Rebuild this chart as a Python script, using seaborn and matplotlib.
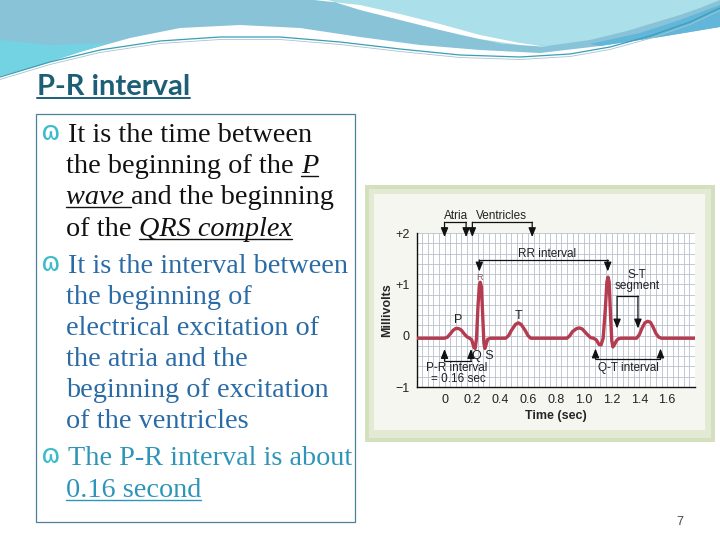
import matplotlib
matplotlib.use("Agg")
import matplotlib.pyplot as plt
import seaborn as sns
import pandas as pd
import numpy as np
from matplotlib.patches import Rectangle, Polygon

# ECG trace (time in s, potential in mV)
ecg_time = [-0.20, 0.00, 0.02, 0.04, 0.06, 0.08, 0.10, 0.12, 0.14, 0.16, 0.18,
            0.195, 0.21, 0.22, 0.23, 0.24, 0.25, 0.257, 0.265, 0.275, 0.283,
            0.29, 0.298, 0.31, 0.33, 0.44, 0.46, 0.48, 0.51, 0.53, 0.55, 0.58,
            0.60, 0.62, 0.88, 0.90, 0.92, 0.95, 0.97, 0.99, 1.02, 1.05, 1.07,
            1.09, 1.11, 1.125, 1.14, 1.155, 1.167, 1.175, 1.183, 1.193, 1.202,
            1.21, 1.22, 1.235, 1.25, 1.27, 1.38, 1.40, 1.42, 1.44, 1.46, 1.48,
            1.50, 1.52, 1.54, 1.56, 1.80]
ecg_mv = [-0.05, -0.05, -0.03, 0.03, 0.10, 0.14, 0.14, 0.11, 0.04, -0.02, -0.05,
          -0.08, -0.22, -0.25, -0.05, 0.55, 0.98, 1.04, 0.95, 0.35, -0.15,
          -0.25, -0.18, -0.07, -0.05, -0.05, 0.00, 0.10, 0.22, 0.25, 0.22, 0.10,
          0.00, -0.05, -0.05, 0.00, 0.08, 0.14, 0.15, 0.13, 0.04, -0.04, -0.05,
          -0.08, -0.17, -0.18, -0.05, 0.50, 1.05, 1.14, 1.05, 0.40, -0.10,
          -0.22, -0.18, -0.10, -0.06, -0.05, -0.05, 0.02, 0.15, 0.25, 0.28, 0.26,
          0.16, 0.04, -0.03, -0.05, -0.05]

x_ticks = [0, 0.2, 0.4, 0.6, 0.8, 1.0, 1.2, 1.4, 1.6]
x_tick_labels = ["0", "0.2", "0.4", "0.6", "0.8", "1.0", "1.2", "1.4", "1.6"]
y_ticks = [-1, 0, 1, 2]
y_tick_labels = ["\u22121", "0", "+1", "+2"]

# wave letters
wave_labels = ["P", "R", "T", "Q S"]
wave_t = [0.096, 0.252, 0.533, 0.273]
wave_mv = [0.30, 1.14, 0.38, -0.39]

# interval brackets: start, end, bar level, arrow tip level
bracket_t0 = [0.0, 0.2, 0.25, 0.0, 1.085, 1.24]
bracket_t1 = [0.155, 0.63, 1.173, 0.19, 1.552, 1.39]
bracket_bar = [2.21, 2.21, 1.475, -0.50, -0.46, 0.77]
bracket_tip = [1.92, 1.92, 1.25, -0.26, -0.25, 0.14]

# bracket captions
caption_text = ["Atria", "Ventricles", "RR interval", "P-R interval",
                "= 0.16 sec", "Q-T interval", "S-T", "segment"]
caption_t = [0.08, 0.41, 0.74, 0.09, 0.10, 1.32, 1.385, 1.385]
caption_mv = [2.34, 2.34, 1.60, -0.63, -0.85, -0.63, 1.18, 0.97]

sns.set_style("white")
plt.rcParams["font.family"] = ["Liberation Sans", "DejaVu Sans"]

fig = plt.figure(figsize=(7.2, 5.4), dpi=100)
fig.patch.set_facecolor("white")

# slide background, drawn in pixel units
bg = fig.add_axes([0, 0, 1, 1])
bg.set_xlim(0, 720)
bg.set_ylim(540, 0)
bg.axis("off")

dark = [(0, 0), (720, 0), (720, 27), (660, 37), (600, 46), (540, 53), (480, 50),
        (420, 45), (360, 37), (300, 28), (240, 25), (180, 28), (130, 38),
        (80, 52), (40, 65), (0, 76)]
bg.add_patch(Polygon(dark, closed=True, fc="#88c3d7", ec="none"))
bg.add_patch(Polygon([(0, 40), (0, 76), (40, 65), (80, 52), (110, 43), (50, 45)],
                     closed=True, fc="#74d3e3", ec="none"))
bg.add_patch(Polygon([(590, 44), (640, 33), (680, 20), (720, 5), (720, 27),
                      (660, 37), (600, 46)], closed=True, fc="#62b6da", ec="none"))
light = [(325, 0), (720, 0), (700, 8), (680, 15), (650, 24), (627, 31), (590, 40),
         (547, 46), (503, 44), (460, 35), (430, 27), (395, 17), (360, 8)]
bg.add_patch(Polygon(light, closed=True, fc="#abdfe9", ec="none"))
swoosh = [(314, 0), (360, 5), (400, 14), (440, 24), (480, 35), (520, 43), (548, 47),
          (520, 45), (480, 39), (440, 30), (400, 20), (360, 10), (328, 0)]
bg.add_patch(Polygon(swoosh, closed=True, fc="white", ec="none"))
tl = np.array([(0, 77), (50, 62), (100, 50), (160, 41), (220, 37), (280, 37),
               (340, 42), (400, 49), (460, 55), (520, 57), (570, 54), (610, 47),
               (650, 36), (690, 22), (720, 8)])
bg.plot(tl[:, 0], tl[:, 1], color="#3a9fb5", lw=0.9)
bg.plot(tl[:, 0], tl[:, 1] + 2.5, color="#a9c4cf", lw=0.6)

renderer = fig.canvas.get_renderer()


def text_w(s, **kw):
    t = bg.text(0, 0, s, **kw)
    w = t.get_window_extent(renderer).width
    t.remove()
    return w


def adv(s, **kw):
    return text_w(s + "|", **kw) - text_w("|", **kw)


# title
title_kw = dict(family=["Lato", "DejaVu Sans"], weight="bold")
tsize = 19 * 153 / text_w("P-R interval", fontsize=19, **title_kw)
bg.text(37, 95, "P-R interval", fontsize=tsize, color="#1d5e77", va="baseline", **title_kw)
bg.plot([37, 37 + text_w("P-R interval", fontsize=tsize, **title_kw)], [98, 98],
        color="#1d5e77", lw=1.4)

# text box
bg.add_patch(Rectangle((36, 114), 319, 408, fc="none", ec="#4d8199", lw=0.9))

body_kw = dict(family=["Liberation Serif", "DejaVu Serif"])
bsize = 17 * 280 / text_w("It is the interval between", fontsize=17, **body_kw)

black, blue, teal = "#111111", "#2a6ba6", "#2e95b8"
body_lines = [
    (142, 68, black, True, [("It is the time between", "n")]),
    (173, 66, black, False, [("the beginning of the ", "n"), ("P", "iu")]),
    (204, 66, black, False, [("wave ", "iu"), ("and the beginning", "n")]),
    (236, 66, black, False, [("of the ", "n"), ("QRS complex", "iu")]),
    (273, 68, blue, True, [("It is the interval between", "n")]),
    (304, 66, blue, False, [("the beginning of", "n")]),
    (335, 66, blue, False, [("electrical excitation of", "n")]),
    (366, 66, blue, False, [("the atria and the", "n")]),
    (397, 66, blue, False, [("beginning of excitation", "n")]),
    (428, 66, blue, False, [("of the ventricles", "n")]),
    (465, 68, teal, True, [("The P-R interval is about", "n")]),
    (497, 66, teal, False, [("0.16 second", "u")]),
]
for y, x, col, bullet, segs in body_lines:
    if bullet:
        bg.text(41, y - 2, "\u0277", fontsize=bsize * 0.95, color="#3bbccb",
                va="baseline", family=["DejaVu Sans"])
    cx = x
    for s, st in segs:
        kw = dict(body_kw, fontsize=bsize)
        if "i" in st:
            kw["style"] = "italic"
        bg.text(cx, y, s, color=col, va="baseline", **kw)
        w = adv(s, **kw)
        if "u" in st:
            bg.plot([cx, cx + w], [y + 3, y + 3], color=col, lw=1.0)
        cx += w

bg.text(680, 522, "7", fontsize=9, color="#444444", ha="center", va="center")

# figure panel
bg.add_patch(Rectangle((365, 185), 350, 257, fc="#d3dfbd", ec="none"))
bg.add_patch(Rectangle((369, 189), 342, 249, fc="#e2ead4", ec="none"))
bg.add_patch(Rectangle((374, 194), 331, 236, fc="#f4f6ef", ec="none"))

# ECG chart
ax = fig.add_axes([416.7 / 720, 1 - 387 / 540, (695 - 416.7) / 720, (387 - 233) / 540])
ax.set_facecolor("white")
ecg = pd.DataFrame({"time": ecg_time, "mv": ecg_mv})
sns.lineplot(data=ecg, x="time", y="mv", sort=False, estimator=None,
             color="#b53b50", lw=2.4, ax=ax, zorder=3)
ax.set_xlim(-0.2, 1.8)
ax.set_ylim(-1, 2)
ax.set_xticks(x_ticks)
ax.set_xticklabels(x_tick_labels)
ax.set_yticks(y_ticks)
ax.set_yticklabels(y_tick_labels)
ax.set_xticks(np.arange(-0.2, 1.801, 0.04), minor=True)
ax.set_yticks(np.arange(-1, 2.001, 0.2), minor=True)
ax.grid(which="both", color="#b9c0cb", lw=0.6)
ax.tick_params(which="minor", length=0)
ax.tick_params(which="major", direction="inout", length=6, width=0.9,
               labelsize=9, colors="#222222", pad=2)
for side in ["top", "right"]:
    ax.spines[side].set_visible(False)
for side in ["left", "bottom"]:
    ax.spines[side].set_color("#111111")
    ax.spines[side].set_linewidth(1.0)
ax.set_xlabel("Time (sec)", fontsize=9, fontweight="bold", labelpad=3)
ax.set_ylabel("Millivolts", fontsize=9, fontweight="bold")
ax.yaxis.set_label_coords(-0.085, 0.5)

for lab, t, v in zip(wave_labels, wave_t, wave_mv):
    ax.text(t, v, lab, ha="center", va="center", zorder=5,
            fontsize=6.5 if lab == "R" else 9,
            color="#8a5560" if lab == "R" else "#222222")

arrow = dict(arrowstyle="-|>,head_length=0.55,head_width=0.22", color="#111111",
             lw=0.9, mutation_scale=10, shrinkA=0, shrinkB=0)
for t0, t1, yb, yt in zip(bracket_t0, bracket_t1, bracket_bar, bracket_tip):
    ax.plot([t0, t1], [yb, yb], color="#111111", lw=0.9, zorder=4, clip_on=False)
    for t in (t0, t1):
        ax.annotate("", xy=(t, yt), xytext=(t, yb), arrowprops=arrow,
                    annotation_clip=False, zorder=4)

for s, t, v in zip(caption_text, caption_t, caption_mv):
    ax.text(t, v, s, ha="center", va="center", fontsize=8.5, color="#222222",
            zorder=5, clip_on=False)

fig.savefig("out.png", dpi=100)
